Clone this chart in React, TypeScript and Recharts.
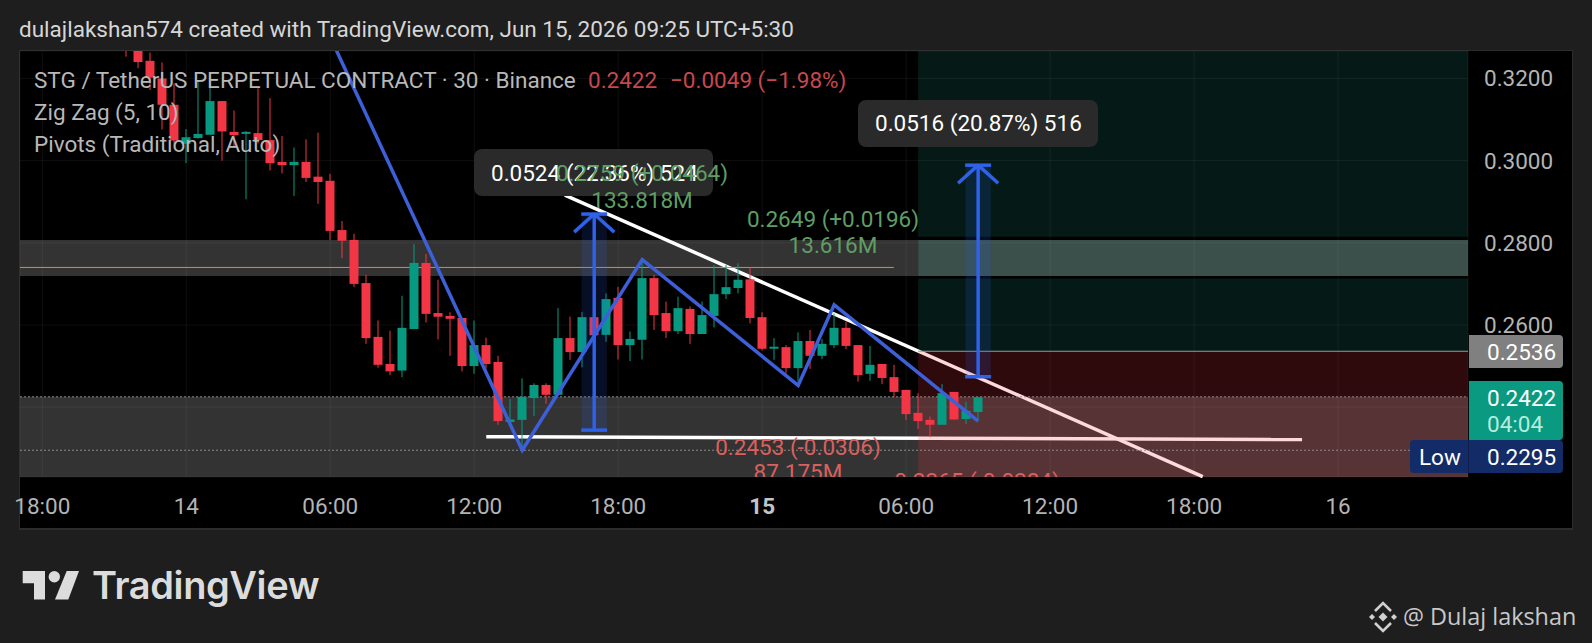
import React from 'react';
import { ComposedChart, Bar, Line, XAxis, YAxis, CartesianGrid, ReferenceArea, ReferenceLine } from 'recharts';

const firstBar = -1;
const opens = [0.3295, 0.328, 0.3243, 0.32, 0.3136, 0.3041, 0.3055, 0.3063, 0.3145, 0.307, 0.3067, 0.3067, 0.305, 0.2997, 0.2989, 0.2997, 0.2961, 0.2951, 0.2831, 0.2807, 0.2702, 0.2571, 0.2505, 0.2489, 0.259, 0.2751, 0.2629, 0.2622, 0.2617, 0.25, 0.2551, 0.251, 0.2364, 0.2369, 0.2422, 0.2454, 0.243, 0.2568, 0.2534, 0.2619, 0.2576, 0.2666, 0.2551, 0.2564, 0.2714, 0.2629, 0.2585, 0.2639, 0.2578, 0.2622, 0.2675, 0.269, 0.2711, 0.2619, 0.2545, 0.2546, 0.2495, 0.2561, 0.2525, 0.2551, 0.2593, 0.2551, 0.2481, 0.2505, 0.2473, 0.2442, 0.2386, 0.2369, 0.2357, 0.2437, 0.2371, 0.2388];
const highs = [0.33, 0.329, 0.3263, 0.3239, 0.3188, 0.3077, 0.3196, 0.3188, 0.3145, 0.3122, 0.3072, 0.3176, 0.3152, 0.306, 0.3032, 0.3052, 0.3068, 0.2968, 0.2853, 0.2822, 0.2722, 0.2611, 0.2586, 0.2671, 0.2797, 0.2773, 0.271, 0.2631, 0.2617, 0.2611, 0.2569, 0.2525, 0.242, 0.247, 0.2458, 0.2458, 0.2641, 0.262, 0.2632, 0.2669, 0.2677, 0.2693, 0.2584, 0.2754, 0.2722, 0.2657, 0.2669, 0.2645, 0.2657, 0.2746, 0.2746, 0.275, 0.274, 0.2631, 0.2568, 0.2551, 0.2582, 0.2588, 0.2566, 0.2628, 0.2608, 0.2551, 0.2549, 0.2505, 0.2503, 0.2442, 0.2434, 0.2377, 0.2456, 0.2437, 0.2413, 0.2424];
const lows = [0.3253, 0.3225, 0.3172, 0.3076, 0.3042, 0.2994, 0.3054, 0.3063, 0.3, 0.3034, 0.2906, 0.3042, 0.2976, 0.2969, 0.2914, 0.2948, 0.2895, 0.2807, 0.2763, 0.2692, 0.2554, 0.2496, 0.2478, 0.2473, 0.259, 0.2606, 0.2565, 0.2525, 0.2487, 0.2481, 0.2494, 0.2357, 0.2364, 0.2295, 0.2378, 0.2408, 0.243, 0.2515, 0.2497, 0.2575, 0.2559, 0.2516, 0.2512, 0.2516, 0.2588, 0.2568, 0.2578, 0.2554, 0.2578, 0.2594, 0.2663, 0.2677, 0.2604, 0.2538, 0.2515, 0.2481, 0.2462, 0.2493, 0.2517, 0.2544, 0.2541, 0.2462, 0.2464, 0.2456, 0.2424, 0.2369, 0.2347, 0.2327, 0.2357, 0.2369, 0.2359, 0.2365];
const closes = [0.3285, 0.324, 0.3202, 0.3136, 0.3049, 0.3057, 0.3065, 0.3145, 0.3071, 0.3062, 0.307, 0.305, 0.2994, 0.2989, 0.2997, 0.2958, 0.2948, 0.2829, 0.2805, 0.27, 0.2568, 0.2503, 0.2487, 0.2593, 0.2751, 0.2627, 0.262, 0.2615, 0.25, 0.2551, 0.2505, 0.2366, 0.237, 0.2425, 0.2454, 0.243, 0.2568, 0.2534, 0.2619, 0.2575, 0.2663, 0.2551, 0.2566, 0.2714, 0.2624, 0.2585, 0.2641, 0.2578, 0.2624, 0.2675, 0.2692, 0.271, 0.2617, 0.2542, 0.2547, 0.2495, 0.2561, 0.2525, 0.2554, 0.2593, 0.2549, 0.2478, 0.2503, 0.2471, 0.2437, 0.2383, 0.2366, 0.2357, 0.2434, 0.237, 0.2391, 0.2424];

const zigIdx = [12, 32, 42, 55, 58, 70];
const zigPrice = [0.3552, 0.2295, 0.2759, 0.2453, 0.2649, 0.2366];

const xTicks = [-8, 4, 16, 28, 40, 52, 64, 76, 88, 100];
const xLabels = ['18:00', '14', '06:00', '12:00', '18:00', '15', '06:00', '12:00', '18:00', '16'];
const yTicks = [0.32, 0.3, 0.28, 0.26, 0.24];

const xMin = -9.86;
const xMax = 110.83;
const yMin = 0.22299;
const yMax = 0.32669;

const candles = opens.map((o, i) => ({ idx: firstBar + i, open: o, high: highs[i], low: lows[i], close: closes[i] }));
const zigzag = zigIdx.map((idx, i) => ({ idx, zig: zigPrice[i] }));

const RED = '#f23645';
const GREEN = '#089981';
const BLUE = '#3d5fd8';
const MEASURE = '#2f62e8';

function Candle(props: any) {
  const { x, y, width, height, payload } = props;
  const { open, high, low, close } = payload;
  const scale = height / (high - low);
  const top = y + (high - Math.max(open, close)) * scale;
  const h = Math.max(Math.abs(open - close) * scale, 2);
  const color = close >= open ? GREEN : RED;
  const cx = Math.round(x + width / 2);
  return (
    <g>
      <rect x={cx - 0.5} y={y} width={1} height={height} fill={color} />
      <rect x={cx - 4.5} y={top} width={9} height={h} fill={color} />
    </g>
  );
}

function XTick({ x, y, payload }: any) {
  const label = xLabels[xTicks.indexOf(payload.value)];
  return (
    <text x={x} y={y} dy={29} textAnchor="middle" fill={label === '15' ? '#c4c4c4' : '#b4b4b4'} fontSize={22.5} fontWeight={label === '15' ? 700 : 400} fontFamily="Roboto">
      {label}
    </text>
  );
}

function YTick({ y, payload }: any) {
  return (
    <text x={1484} y={y} dy={8} fill="#b4b4b4" fontSize={22.5} fontFamily="Roboto">
      {payload.value.toFixed(4)}
    </text>
  );
}

function Txt({ x, y, color, size = 22.5, center, weight, children }: any) {
  return (
    <div
      style={{
        position: 'absolute',
        left: x,
        top: y,
        transform: center ? 'translate(-50%,-50%)' : 'translateY(-50%)',
        color,
        fontSize: size,
        fontWeight: weight,
        fontFamily: 'Roboto',
        whiteSpace: 'nowrap',
        lineHeight: 1,
      }}
    >
      {children}
    </div>
  );
}

function Box({ x, y, w, h, fill, radius }: any) {
  return <div style={{ position: 'absolute', left: x, top: y, width: w, height: h, background: fill, borderRadius: radius }} />;
}

// measure tool: shaded column, shaft, base bar and arrow head
function measure(idx: number, from: number, to: number) {
  const z = 450;
  const seg = (x1: number, y1: number, x2: number, y2: number, k: string) => (
    <ReferenceLine key={k} segment={[{ x: x1, y: y1 }, { x: x2, y: y2 }]} stroke={MEASURE} strokeWidth={3.5} ifOverflow="visible" zIndex={z} />
  );
  return [
    <ReferenceArea key={`a${idx}`} x1={idx - 1.05} x2={idx + 1.05} y1={from} y2={to} fill="rgba(41,98,255,0.15)" fillOpacity={1} stroke="none" zIndex={440} />,
    seg(idx, from, idx, to, `s${idx}`),
    seg(idx - 1.08, from, idx + 1.08, from, `b${idx}`),
    seg(idx - 1.08, to, idx + 1.08, to, `t${idx}`),
    seg(idx - 1.67, to - 0.0044, idx, to, `l${idx}`),
    seg(idx + 1.67, to - 0.0044, idx, to, `r${idx}`),
  ];
}

export default function App() {
  return (
    <div style={{ position: 'fixed', left: 0, top: 0, width: 1592, height: 643, background: '#1e1e1e', overflow: 'hidden' }}>
      <Box x={19} y={50} w={1554} h={480} fill="#2c2c2c" />
      <Box x={20} y={51} w={1552} h={477} fill="#000" />

      <div style={{ position: 'absolute', left: 0, top: 0 }}>
        <ComposedChart width={1592} height={643} data={candles} margin={{ top: 51, left: 20, right: 20, bottom: 114 }}>
          <XAxis dataKey="idx" type="number" domain={[xMin, xMax]} allowDataOverflow ticks={xTicks} interval={0} height={52} axisLine={false} tickLine={false} tick={<XTick />} />
          <YAxis orientation="right" type="number" domain={[yMin, yMax]} allowDataOverflow ticks={yTicks} interval={0} width={104} axisLine={false} tickLine={false} tick={<YTick />} />

          <ReferenceArea x1={65} x2={xMax} y1={0.2536} y2={yMax} fill="#051a16" fillOpacity={1} stroke="none" zIndex={10} />
          <ReferenceArea x1={65} x2={xMax} y1={0.2807} y2={0.2815} fill="#000" fillOpacity={1} stroke="none" zIndex={11} />
          <ReferenceArea x1={65} x2={xMax} y1={0.2713} y2={0.2719} fill="#000" fillOpacity={1} stroke="none" zIndex={11} />
          <ReferenceArea x1={xMin} x2={65} y1={0.2719} y2={0.2807} fill="#333333" fillOpacity={1} stroke="none" zIndex={12} />
          <ReferenceArea x1={65} x2={xMax} y1={0.2719} y2={0.2807} fill="#3b4f4b" fillOpacity={1} stroke="none" zIndex={12} />
          <ReferenceArea x1={xMin} x2={xMax} y1={yMin} y2={0.2425} fill="#333333" fillOpacity={1} stroke="none" zIndex={13} />

          <ReferenceLine segment={[{ x: 35.55, y: 0.2916 }, { x: 88.72, y: 0.2231 }]} stroke="#ffffff" strokeWidth={3.5} zIndex={20} />
          <ReferenceLine segment={[{ x: 29, y: 0.2328 }, { x: 97, y: 0.2321 }]} stroke="#ffffff" strokeWidth={3.5} zIndex={20} />

          <ReferenceArea x1={65} x2={xMax} y1={yMin} y2={0.2536} fill="rgba(242,54,69,0.19)" fillOpacity={1} stroke="none" zIndex={30} />
          <ReferenceLine segment={[{ x: 65, y: 0.2536 }, { x: xMax, y: 0.2536 }]} stroke="#9a9a9a" strokeWidth={1} zIndex={31} />

          <CartesianGrid stroke="rgba(255,255,255,0.055)" strokeWidth={1} zIndex={40} />

          <ReferenceLine segment={[{ x: xMin, y: 0.2425 }, { x: xMax, y: 0.2425 }]} stroke="#8a8a8a" strokeWidth={1} strokeDasharray="2 2" zIndex={41} />
          <ReferenceLine segment={[{ x: xMin, y: 0.2295 }, { x: xMax, y: 0.2295 }]} stroke="#8a8a8a" strokeWidth={1} strokeDasharray="2 2" zIndex={41} />
          <ReferenceLine segment={[{ x: xMin, y: 0.274 }, { x: 62.97, y: 0.274 }]} stroke="#e08e1f" strokeWidth={1} zIndex={42} />

          <Bar dataKey={(d: any) => [d.low, d.high]} barSize={9} shape={<Candle />} isAnimationActive={false} />
          <Line data={zigzag} dataKey="zig" type="linear" stroke={BLUE} strokeWidth={3.5} dot={false} activeDot={false} isAnimationActive={false} />

          {measure(38, 0.2344, 0.287)}
          {measure(70, 0.2474, 0.2989)}
        </ComposedChart>
      </div>

      {/* chart annotations, clipped to the plot area */}
      <div style={{ position: 'absolute', left: 20, top: 51, width: 1448, height: 426, overflow: 'hidden' }}>
        <div style={{ position: 'absolute', left: -20, top: -51 }}>
          <Box x={474} y={149} w={239} h={47} fill="#2a2a2a" radius={8} />
          <Box x={858} y={100} w={240} h={47} fill="#2a2a2a" radius={8} />
          <Txt x={491} y={173} color="#ffffff">0.0524 (22.36%) 524</Txt>
          <Txt x={642} y={173} color="#5f9e63" center>0.2759 (+0.0464)</Txt>
          <Txt x={642} y={200} color="#5f9e63" center>133.818M</Txt>
          <Txt x={875} y={123} color="#ffffff">0.0516 (20.87%) 516</Txt>
          <Txt x={833} y={219} color="#5f9e63" center>0.2649 (+0.0196)</Txt>
          <Txt x={833} y={245} color="#5f9e63" center>13.616M</Txt>
          <Txt x={798} y={447} color="#d9605f" center>0.2453 (-0.0306)</Txt>
          <Txt x={798} y={472} color="#d9605f" center>87.175M</Txt>
          <Txt x={977} y={481} color="#d9605f" center>0.2365 (-0.0284)</Txt>
          <Txt x={34} y={80} color="#b8b8b8">STG / TetherUS PERPETUAL CONTRACT · 30 · Binance</Txt>
          <Txt x={588} y={80} color="#c8474e">0.2422</Txt>
          <Txt x={670} y={80} color="#c8474e">−0.0049 (−1.98%)</Txt>
          <Txt x={34} y={112} color="#b8b8b8">Zig Zag (5, 10)</Txt>
          <Txt x={34} y={144} color="#b8b8b8">Pivots (Traditional, Auto)</Txt>
        </div>
      </div>

      {/* price scale tags */}
      <Box x={1469} y={335} w={94} h={33} fill="#808080" radius="0 4px 4px 0" />
      <Txt x={1487} y={352} color="#ffffff">0.2536</Txt>
      <Box x={1469} y={381} w={94} h={59} fill="#0a9981" radius="0 4px 4px 0" />
      <Txt x={1487} y={398} color="#ffffff">0.2422</Txt>
      <Txt x={1487} y={424} color="#b5ecdf">04:04</Txt>
      <Box x={1410} y={440} w={153} h={33} fill="#132c68" radius={4} />
      <Box x={1468} y={440} w={1} h={33} fill="#0d1f4a" />
      <Txt x={1419} y={457} color="#ffffff">Low</Txt>
      <Txt x={1487} y={457} color="#ffffff">0.2295</Txt>

      <Txt x={19} y={29} color="#d6d6d6">dulajlakshan574 created with TradingView.com, Jun 15, 2026 09:25 UTC+5:30</Txt>

      {/* logo and watermark */}
      <svg width={1592} height={643} style={{ position: 'absolute', left: 0, top: 0, pointerEvents: 'none' }}>
        <path d="M22.7 571H45V599.5H34V583.3H22.7Z" fill="#dcdcdc" />
        <circle cx={54.3} cy={576.7} r={5.7} fill="#dcdcdc" />
        <path d="M66.7 571H79L68.3 599.5H55Z" fill="#dcdcdc" />
        <g fill="none" stroke="#d0d0d0" strokeWidth={2.6}>
          <path d="M1375 611L1383 603L1391 611" />
          <path d="M1375 623L1383 631L1391 623" />
        </g>
        <g fill="#d0d0d0">
          <path d="M1383 612.5L1387.5 617L1383 621.5L1378.5 617Z" />
          <path d="M1369 617L1372 614L1375 617L1372 620Z" />
          <path d="M1391 617L1394 614L1397 617L1394 620Z" />
        </g>
      </svg>
      <Txt x={92} y={585} color="#dcdcdc" size={38}><span style={{ fontFamily: 'Inter', fontWeight: 600, letterSpacing: -0.4 }}>TradingView</span></Txt>
      <div style={{ position: 'absolute', left: 1403, top: 617, transform: 'translateY(-50%)', color: '#c8c8c8', fontSize: 23.4, fontFamily: 'Open Sans', whiteSpace: 'nowrap', lineHeight: 1 }}>@ Dulaj lakshan</div>
    </div>
  );
}
